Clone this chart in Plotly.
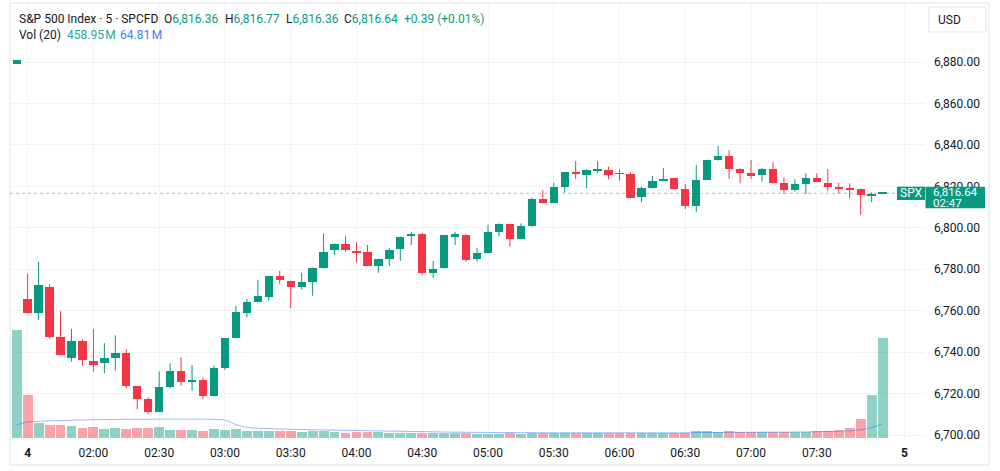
import plotly.graph_objects as go

# ---------------- data (5-minute bars, S&P 500 CFD) ----------------
opens = [6879.2, 6765.8, 6758.7, 6771.6, 6747.1, 6737.3, 6745.2, 6735.9, 6734.6, 6737.0,
         6739.7, 6723.6, 6717.5, 6711.2, 6723.3, 6730.7, 6725.8, 6726.5, 6719.0, 6732.2,
         6747.0, 6759.1, 6764.2, 6766.8, 6776.6, 6774.3, 6771.4, 6774.0, 6780.5, 6789.3,
         6792.2, 6788.9, 6788.2, 6781.6, 6784.8, 6789.6, 6795.9, 6797.2, 6778.3, 6780.5,
         6796.0, 6796.7, 6784.8, 6787.8, 6797.8, 6801.8, 6794.7, 6800.7, 6814.0, 6812.1,
         6819.7, 6826.9, 6825.3, 6827.7, 6827.9, 6826.3, 6826.0, 6814.9, 6819.2, 6822.9,
         6823.9, 6818.7, 6810.5, 6823.1, 6832.6, 6834.7, 6828.2, 6826.4, 6825.3, 6828.5,
         6821.5, 6818.1, 6821.1, 6824.2, 6821.8, 6819.7, 6818.9, 6818.6, 6815.6, 6816.36]
highs = [6881.0, 6777.8, 6783.6, 6772.7, 6759.8, 6751.2, 6746.3, 6751.2, 6744.3, 6748.1,
         6741.4, 6723.8, 6718.3, 6730.6, 6734.6, 6737.6, 6733.8, 6727.7, 6733.5, 6746.9,
         6762.3, 6765.6, 6774.8, 6776.8, 6779.2, 6774.5, 6778.3, 6780.8, 6797.3, 6792.5,
         6796.0, 6793.0, 6791.7, 6785.1, 6790.1, 6795.8, 6798.1, 6797.5, 6784.0, 6796.6,
         6798.1, 6796.9, 6790.4, 6801.4, 6802.1, 6802.0, 6802.1, 6814.5, 6818.2, 6821.8,
         6827.0, 6832.2, 6828.2, 6832.2, 6829.5, 6828.2, 6826.8, 6819.8, 6825.0, 6828.9,
         6824.1, 6821.1, 6830.3, 6832.9, 6839.6, 6837.5, 6828.7, 6832.7, 6829.0, 6831.7,
         6824.3, 6823.4, 6826.3, 6826.3, 6828.4, 6821.8, 6821.5, 6818.8, 6817.1, 6816.77]
lows = [6879.0, 6758.6, 6755.5, 6746.7, 6738.4, 6735.4, 6733.3, 6730.6, 6729.8, 6731.0,
        6722.5, 6712.4, 6710.0, 6711.0, 6722.5, 6723.8, 6721.4, 6717.4, 6718.5, 6731.4,
        6746.8, 6756.8, 6764.0, 6764.8, 6772.9, 6761.1, 6770.3, 6767.2, 6780.3, 6786.9,
        6788.5, 6783.2, 6781.5, 6778.3, 6781.6, 6784.0, 6791.7, 6777.6, 6775.9, 6780.3,
        6791.7, 6783.6, 6783.6, 6787.6, 6795.8, 6790.9, 6794.5, 6800.5, 6811.8, 6811.9,
        6816.9, 6823.6, 6819.1, 6826.3, 6823.4, 6822.7, 6814.3, 6812.3, 6819.0, 6822.7,
        6818.5, 6809.1, 6807.5, 6822.9, 6832.4, 6823.6, 6821.5, 6823.6, 6822.3, 6821.3,
        6816.2, 6817.4, 6816.3, 6822.0, 6817.8, 6816.5, 6814.2, 6806.3, 6812.3, 6816.36]
closes = [6881.0, 6758.7, 6772.4, 6747.1, 6738.6, 6745.5, 6736.2, 6733.8, 6737.3, 6739.7,
          6723.6, 6717.4, 6710.9, 6723.2, 6730.9, 6725.7, 6726.2, 6719.0, 6732.2, 6746.7,
          6759.2, 6764.4, 6766.9, 6776.6, 6774.8, 6771.4, 6774.0, 6780.6, 6788.5, 6792.1,
          6789.3, 6788.0, 6781.7, 6784.9, 6789.3, 6795.6, 6797.2, 6778.2, 6780.3, 6796.4,
          6796.9, 6784.5, 6787.8, 6797.8, 6801.8, 6794.4, 6800.7, 6813.9, 6812.1, 6819.5,
          6826.8, 6825.8, 6827.7, 6828.1, 6825.6, 6826.0, 6814.5, 6819.2, 6822.7, 6823.6,
          6818.7, 6810.5, 6823.1, 6832.7, 6834.8, 6828.4, 6826.3, 6825.0, 6828.4, 6821.5,
          6818.1, 6821.1, 6824.2, 6822.1, 6819.5, 6818.9, 6818.6, 6815.7, 6815.9, 6816.64]
volumes_m = [495, 199, 69, 58, 58, 54, 46, 52, 40, 46,
             41, 47, 45, 49, 38, 35, 38, 34, 40, 38,
             41, 32, 32, 32, 32, 31, 28, 32, 32, 26,
             22, 28, 26, 26, 23, 23, 22, 23, 23, 22,
             23, 23, 18, 20, 18, 22, 18, 22, 22, 24,
             24, 24, 22, 22, 22, 23, 24, 22, 22, 22,
             23, 24, 34, 32, 26, 31, 26, 26, 26, 28,
             29, 28, 28, 34, 34, 38, 46, 87, 196, 458.95]
vol_ma_m = [60, 73, 77, 79, 80, 82, 83, 84, 85, 85,
            86, 86, 86, 87, 87, 87, 87, 87, 86, 82,
            62, 49, 45, 43, 41, 40, 39, 38, 37, 36,
            35, 34.5, 33.5, 32.5, 31.5, 31, 30, 29.5, 28.5, 27.5,
            27, 26.5, 26, 25.5, 25, 25, 24.5, 24.5, 24, 24,
            24, 24, 24, 24, 24, 24, 24, 24, 24, 24,
            24, 24, 24.5, 25, 25.5, 26, 26, 26.5, 26.5, 27,
            27, 27.5, 28, 29, 30, 31, 33, 38, 48, 64.81]
tick_pos = [1, 7, 13, 19, 25, 31, 37, 43, 49, 55, 61, 67, 73, 81]
tick_labels = ["<b>4</b>", "02:00", "02:30", "03:00", "03:30", "04:00", "04:30",
               "05:00", "05:30", "06:00", "06:30", "07:00", "07:30", "<b>5</b>"]
price_ticks = [6700, 6720, 6740, 6760, 6780, 6800, 6820, 6840, 6860, 6880]
last_price = 6816.64
symbol = "SPX"
countdown = "02:47"

# ---------------- styling ----------------
UP = "#089981"
DOWN = "#F23645"
UP_VOL = "rgba(8,153,129,0.45)"
DOWN_VOL = "rgba(242,54,69,0.45)"
TXT = "#131722"
GRID = "#f1f2f4"
FONT = "Roboto"

x = list(range(len(opens)))
up = [c >= o for o, c in zip(opens, closes)]

fig = go.Figure()

# volume (overlay axis, hidden)
fig.add_trace(go.Bar(
    x=x, y=volumes_m, yaxis="y2", width=0.9,
    marker=dict(color=[UP_VOL if u else DOWN_VOL for u in up], line=dict(width=0)),
    hoverinfo="skip", showlegend=False))
fig.add_trace(go.Scatter(
    x=x, y=vol_ma_m, yaxis="y2", mode="lines",
    line=dict(color="rgba(41,98,255,0.45)", width=1, shape="spline"),
    hoverinfo="skip", showlegend=False))

# wicks
for flag, col in ((True, UP), (False, DOWN)):
    wx, wy = [], []
    for i in x:
        if up[i] == flag:
            wx += [i, i, None]
            wy += [lows[i], highs[i], None]
    fig.add_trace(go.Scatter(x=wx, y=wy, mode="lines", line=dict(color=col, width=1),
                             hoverinfo="skip", showlegend=False))

# bodies
for flag, col in ((True, UP), (False, DOWN)):
    bx = [i for i in x if up[i] == flag]
    base = [min(opens[i], closes[i]) for i in bx]
    hgt = [max(abs(closes[i] - opens[i]), 0.45) for i in bx]
    fig.add_trace(go.Bar(x=bx, y=hgt, base=base, width=0.76,
                         marker=dict(color=col, line=dict(width=0)),
                         hoverinfo="skip", showlegend=False))

# ---------------- layout ----------------
L, R, T, B = 10, 925, 3, 438   # plot area in pixels


def px_x(p):
    return (p - L) / (R - L)


def px_y(p):
    return (B - p) / (B - T)


fig.update_layout(
    width=1000, height=471,
    margin=dict(l=L, r=1000 - R, t=T, b=471 - B, pad=0),
    paper_bgcolor="white", plot_bgcolor="white",
    barmode="overlay", bargap=0,
    font=dict(family=FONT, size=12, color=TXT),
    xaxis=dict(range=[-0.61, 82.87], tickmode="array", tickvals=tick_pos, ticktext=tick_labels,
               showgrid=True, gridcolor=GRID, gridwidth=1, zeroline=False, showline=False,
               ticks="", ticklabelstandoff=6, tickfont=dict(family=FONT, size=12, color=TXT),
               fixedrange=True),
    yaxis=dict(range=[6698.55, 6908.5], side="right", tickmode="array", tickvals=price_ticks,
               tickformat=",.2f", showgrid=True, gridcolor=GRID, gridwidth=1, zeroline=False,
               showline=False, ticks="", ticklabelstandoff=8,
               tickfont=dict(family=FONT, size=12, color=TXT), fixedrange=True),
    yaxis2=dict(range=[0, 2001], overlaying="y", visible=False, fixedrange=True),
)

shapes = [
    # outer frame
    dict(type="rect", xref="paper", yref="paper", x0=px_x(10), x1=px_x(989), y0=px_y(465), y1=px_y(3),
         line=dict(color="#e0e3eb", width=1), fillcolor="rgba(0,0,0,0)", layer="below"),
    # last price dotted line
    dict(type="line", xref="paper", yref="y", x0=0, x1=1, y0=last_price, y1=last_price,
         line=dict(color="rgba(8,153,129,0.45)", width=1, dash="dot"), layer="below"),
    # SPX tag
    dict(type="rect", xref="paper", yref="paper", x0=px_x(897), x1=px_x(925), y0=px_y(200), y1=px_y(186.7),
         fillcolor=UP, line=dict(width=0), layer="above"),
    # price tag
    dict(type="rect", xref="paper", yref="paper", x0=px_x(925.5), x1=px_x(985), y0=px_y(208.3), y1=px_y(186.7),
         fillcolor=UP, line=dict(width=0), layer="above"),
    # USD button
    dict(type="rect", xref="paper", yref="paper", x0=px_x(929), x1=px_x(986), y0=px_y(32), y1=px_y(7),
         fillcolor="white", line=dict(color="#e0e3eb", width=1), layer="above"),
]
fig.update_layout(shapes=shapes)


def ann(px, py, text, color=TXT, size=12, xanchor="left"):
    return dict(xref="paper", yref="paper", x=px_x(px), y=px_y(py), text=text, showarrow=False,
                xanchor=xanchor, yanchor="middle", borderpad=0,
                font=dict(family=FONT, size=size, color=color))


def span(t, c):
    return f'<span style="color:{c}">{t}</span>'


annotations = [
    ann(18, 19, "S&P 500 Index · 5 · SPCFD"),
    ann(163, 19, "O" + span("6,816.36", UP)),
    ann(224, 19, "H" + span("6,816.77", UP)),
    ann(285, 19, "L" + span("6,816.36", UP)),
    ann(343, 19, "C" + span("6,816.64", UP)),
    ann(403, 19, span("+0.39 (+0.01%)", UP)),
    ann(18, 35.5, "Vol (20)"),
    ann(66, 35.5, span("458.95\u202fM", "#22ab94")),
    ann(119, 35.5, span("64.81\u202fM", "#3b7ef6")),
    ann(911, 193.3, symbol, color="white", size=12, xanchor="center"),
    ann(932, 192.3, f"{last_price:,.2f}", color="white", size=11.5),
    ann(932, 203.2, countdown, color="white", size=11.5),
    ann(937, 20, "USD", size=12),
]
fig.update_layout(annotations=annotations)

fig.write_html("out.html")
